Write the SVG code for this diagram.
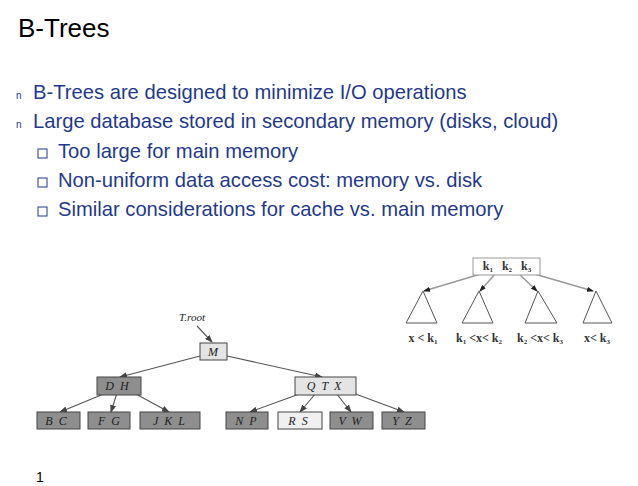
<svg xmlns="http://www.w3.org/2000/svg" width="638" height="486" viewBox="0 0 638 486">
<defs>
<marker id="a" markerWidth="8" markerHeight="6" refX="7" refY="3" orient="auto" markerUnits="userSpaceOnUse"><path d="M0,0 L8,3 L0,6z" fill="#444"/></marker>
<marker id="b" markerWidth="7" markerHeight="5" refX="6" refY="2.5" orient="auto" markerUnits="userSpaceOnUse"><path d="M0,0 L7,2.5 L0,5z" fill="#222"/></marker>
</defs>
<style>
.t{font-family:"Liberation Sans",Arial,sans-serif;fill:#1f3a8a;font-size:20.2px}
.n{font-family:"Liberation Serif",serif;font-style:italic;font-size:12px;fill:#222;text-anchor:middle;white-space:pre}
.dk{fill:#8e8e8e;stroke:#444;stroke-width:1}
.lt{fill:#e4e4e4;stroke:#444;stroke-width:1}
.e{stroke:#555;stroke-width:1.1;fill:none;marker-end:url(#a)}
.g{stroke:#999;stroke-width:1.5;fill:none;marker-end:url(#b)}
.tri{fill:#fff;stroke:#555;stroke-width:1}
.k{font-family:"Liberation Serif",serif;font-size:12px;font-weight:bold;fill:#333;text-anchor:middle;white-space:pre}
</style>
<rect width="638" height="486" fill="#fff"/>
<text x="18" y="37" font-family="Liberation Sans,Arial,sans-serif" font-size="26" fill="#000">B-Trees</text>
<text x="16" y="99" font-family="Liberation Sans,sans-serif" font-size="10" fill="#1f3a8a">n</text>
<text x="33" y="99" class="t">B-Trees are designed to minimize I/O operations</text>
<text x="16" y="128" font-family="Liberation Sans,sans-serif" font-size="10" fill="#1f3a8a">n</text>
<text x="33" y="128" class="t">Large database stored in secondary memory (disks, cloud)</text>
<rect x="38" y="149" width="9" height="9" fill="none" stroke="#1f3a8a"/>
<text x="58" y="158" class="t">Too large for main memory</text>
<rect x="38" y="178" width="9" height="9" fill="none" stroke="#1f3a8a"/>
<text x="58" y="187" class="t">Non-uniform data access cost: memory vs. disk</text>
<rect x="38" y="207" width="9" height="9" fill="none" stroke="#1f3a8a"/>
<text x="58" y="216" class="t">Similar considerations for cache vs. main memory</text>
<text x="36" y="482" font-family="Liberation Sans,sans-serif" font-size="14" fill="#000">1</text>
<g id="connectors">
<path class="e" d="M197,326 L212,342"/>
<path class="e" d="M200,356 L120,377"/>
<path class="e" d="M227,356 L322,377"/>
<path class="e" d="M106,393 L60,412"/>
<path class="e" d="M117,393 L111,412"/>
<path class="e" d="M134,393 L169,412"/>
<path class="e" d="M302,393 L250,412"/>
<path class="e" d="M316,393 L300,412"/>
<path class="e" d="M336,393 L351,412"/>
<path class="e" d="M353,393 L404,412"/>
<path class="g" d="M484,273 L424,291"/>
<path class="g" d="M496,273 L480,291"/>
<path class="g" d="M518,273 L537,291"/>
<path class="g" d="M531,273 L593,291"/>
</g>
<text x="192" y="321" class="n" style="font-size:11px">T.root</text>
<g id="M"><rect class="lt" x="200" y="343" width="27" height="17"/><text class="n" x="213" y="356">M</text></g>
<g id="DH"><rect class="dk" x="97" y="377" width="44" height="18"/><text class="n" x="117" y="390">D  H</text></g>
<g id="QTX"><rect class="lt" x="295" y="377" width="61" height="18"/><text class="n" x="324" y="390">Q  T  X</text></g>
<g id="BC"><rect class="dk" x="37" y="412" width="43" height="17"/><text class="n" x="56" y="425">B  C</text></g>
<g id="FG"><rect class="dk" x="88" y="412" width="42" height="17"/><text class="n" x="109" y="425">F  G</text></g>
<g id="JKL"><rect class="dk" x="140" y="412" width="60" height="17"/><text class="n" x="169" y="425">J  K  L</text></g>
<g id="NP"><rect class="dk" x="226" y="412" width="42" height="17"/><text class="n" x="246" y="425">N  P</text></g>
<g id="RS"><rect class="lt" x="278" y="412" width="44" height="17" style="fill:#f0f0f0"/><text class="n" x="298" y="425">R  S</text></g>
<g id="VW"><rect class="dk" x="330" y="412" width="43" height="17"/><text class="n" x="350" y="425">V  W</text></g>
<g id="YZ"><rect class="dk" x="382" y="412" width="43" height="17"/><text class="n" x="402" y="425">Y  Z</text></g>
<g id="K"><rect x="473" y="258" width="67" height="17" fill="#fff" stroke="#999"/><text class="k" x="507" y="270">k<tspan font-size="7" dy="2">1</tspan><tspan dy="-2">   k</tspan><tspan font-size="7" dy="2">2</tspan><tspan dy="-2">   k</tspan><tspan font-size="7" dy="2">3</tspan></text></g>
<g id="T1"><path class="tri" d="M423,291 L406,323 L437,323z"/><text class="k" x="423" y="342">x &lt; k<tspan font-size="7" dy="2">1</tspan></text></g>
<g id="T2"><path class="tri" d="M479,291 L462,323 L493,323z"/><text class="k" x="479" y="342">k<tspan font-size="7" dy="2">1</tspan><tspan dy="-2"> &lt;x&lt; k</tspan><tspan font-size="7" dy="2">2</tspan></text></g>
<g id="T3"><path class="tri" d="M538,291 L525,323 L557,323z"/><text class="k" x="540" y="342">k<tspan font-size="7" dy="2">2</tspan><tspan dy="-2"> &lt;x&lt; k</tspan><tspan font-size="7" dy="2">3</tspan></text></g>
<g id="T4"><path class="tri" d="M596,291 L583,323 L612,323z"/><text class="k" x="597" y="342">x&lt; k<tspan font-size="7" dy="2">3</tspan></text></g>
</svg>
